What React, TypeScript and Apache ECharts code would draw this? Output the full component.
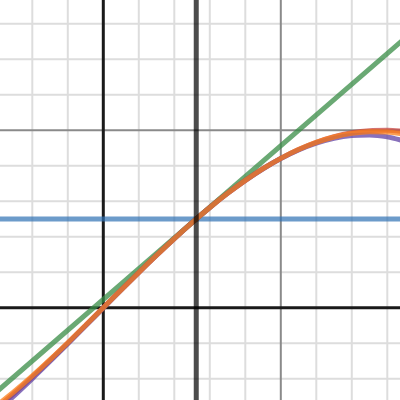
import React, { useEffect, useRef } from "react";
import * as echarts from "echarts";

// View window (graph units)
const X_MIN = -0.58197;
const X_MAX = 1.67155;
const Y_MIN = -0.52;
const Y_MAX = 1.73352;

// Grid lines
const minorX = [-0.4, -0.2, 0.2, 0.4, 0.6, 0.8, 1.2, 1.4, 1.6];
const majorX = [1];
const minorY = [-0.4, -0.2, 0.2, 0.4, 0.6, 0.8, 1.2, 1.4, 1.6];
const majorY = [1];
const axisX = [0];
const axisY = [0];

// Expansion point (vertical marker) and constant term
const centerX = 0.5236;
const constantY = 0.5;

// Sample positions for the curves
const xs = [
  -0.6, -0.5, -0.4, -0.3, -0.2, -0.1, 0, 0.1, 0.2, 0.3, 0.4, 0.5, 0.6, 0.7,
  0.8, 0.9, 1.0, 1.1, 1.2, 1.3, 1.4, 1.5, 1.6, 1.7,
];
// red curve
const sinVals = [
  -0.5646, -0.4794, -0.3894, -0.2955, -0.1987, -0.0998, 0, 0.0998, 0.1987,
  0.2955, 0.3894, 0.4794, 0.5646, 0.6442, 0.7174, 0.7833, 0.8415, 0.8912,
  0.932, 0.9636, 0.9854, 0.9975, 0.9996, 0.9917,
];
// purple curve
const cubicVals = [
  -0.5839, -0.4936, -0.3994, -0.3022, -0.2029, -0.1023, -0.0013, 0.0993,
  0.1985, 0.2955, 0.3894, 0.4794, 0.5646, 0.6442, 0.7172, 0.7828, 0.8402,
  0.8885, 0.9267, 0.9541, 0.9698, 0.9729, 0.9625, 0.9378,
];
// orange curve
const quarticVals = [
  -0.5507, -0.4707, -0.3842, -0.2926, -0.1971, -0.0991, 0.0003, 0.0999,
  0.1987, 0.2955, 0.3894, 0.4794, 0.5646, 0.6442, 0.7173, 0.7833, 0.8413,
  0.8908, 0.9311, 0.9617, 0.9821, 0.9918, 0.9905, 0.9777,
];
// green tangent line endpoints
const tangentX = [-0.6, 1.7];
const tangentY = [-0.47304, 1.51876];

const pair = (a: number[], b: number[]) => a.map((v, i) => [v, b[i]]);

export default function App() {
  const ref = useRef<HTMLDivElement>(null);
  useEffect(() => {
    if (!ref.current) return;
    const chart = echarts.init(ref.current, undefined, { renderer: "svg" });

    const vLine = (v: number, color: string, width: number, z: number) => ({
      type: "line",
      data: [
        [v, Y_MIN - 1],
        [v, Y_MAX + 1],
      ],
      symbol: "none",
      silent: true,
      z,
      lineStyle: { color, width },
    });
    const hLine = (v: number, color: string, width: number, z: number) => ({
      type: "line",
      data: [
        [X_MIN - 1, v],
        [X_MAX + 1, v],
      ],
      symbol: "none",
      silent: true,
      z,
      lineStyle: { color, width },
    });

    const curve = (data: number[][], color: string, z: number) => ({
      type: "line",
      data,
      smooth: 0.3,
      symbol: "none",
      silent: true,
      z,
      lineStyle: { color, width: 5, opacity: 0.75, cap: "round" },
    });

    const series: any[] = [
      ...minorX.map((v) => vLine(v, "#dddddd", 2, 1)),
      ...minorY.map((v) => hLine(v, "#dddddd", 2, 1)),
      ...majorX.map((v) => vLine(v, "#8a8a8a", 2, 2)),
      ...majorY.map((v) => hLine(v, "#8a8a8a", 2, 2)),
      ...axisX.map((v) => vLine(v, "#1a1a1a", 3, 3)),
      ...axisY.map((v) => hLine(v, "#1a1a1a", 3, 3)),
      curve(pair(xs, sinVals), "#c74440", 4),
      {
        type: "line",
        data: [
          [X_MIN - 1, constantY],
          [X_MAX + 1, constantY],
        ],
        symbol: "none",
        silent: true,
        z: 5,
        lineStyle: { color: "#2d70b3", width: 5, opacity: 0.7 },
      },
      curve(pair(tangentX, tangentY), "#388c46", 6),
      curve(pair(xs, cubicVals), "#6042a6", 7),
      curve(pair(xs, quarticVals), "#fa7e19", 8),
      {
        type: "line",
        data: [
          [centerX, Y_MIN - 1],
          [centerX, Y_MAX + 1],
        ],
        symbol: "none",
        silent: true,
        z: 9,
        lineStyle: { color: "#000000", width: 5, opacity: 0.7 },
      },
    ];

    chart.setOption({
      animation: false,
      backgroundColor: "#ffffff",
      grid: { left: 0, right: 0, top: 0, bottom: 0 },
      xAxis: { type: "value", min: X_MIN, max: X_MAX, show: false },
      yAxis: { type: "value", min: Y_MIN, max: Y_MAX, show: false },
      series,
    });
    return () => chart.dispose();
  }, []);
  return (
    <div
      ref={ref}
      style={{ position: "fixed", left: 0, top: 0, width: 400, height: 400 }}
    />
  );
}
